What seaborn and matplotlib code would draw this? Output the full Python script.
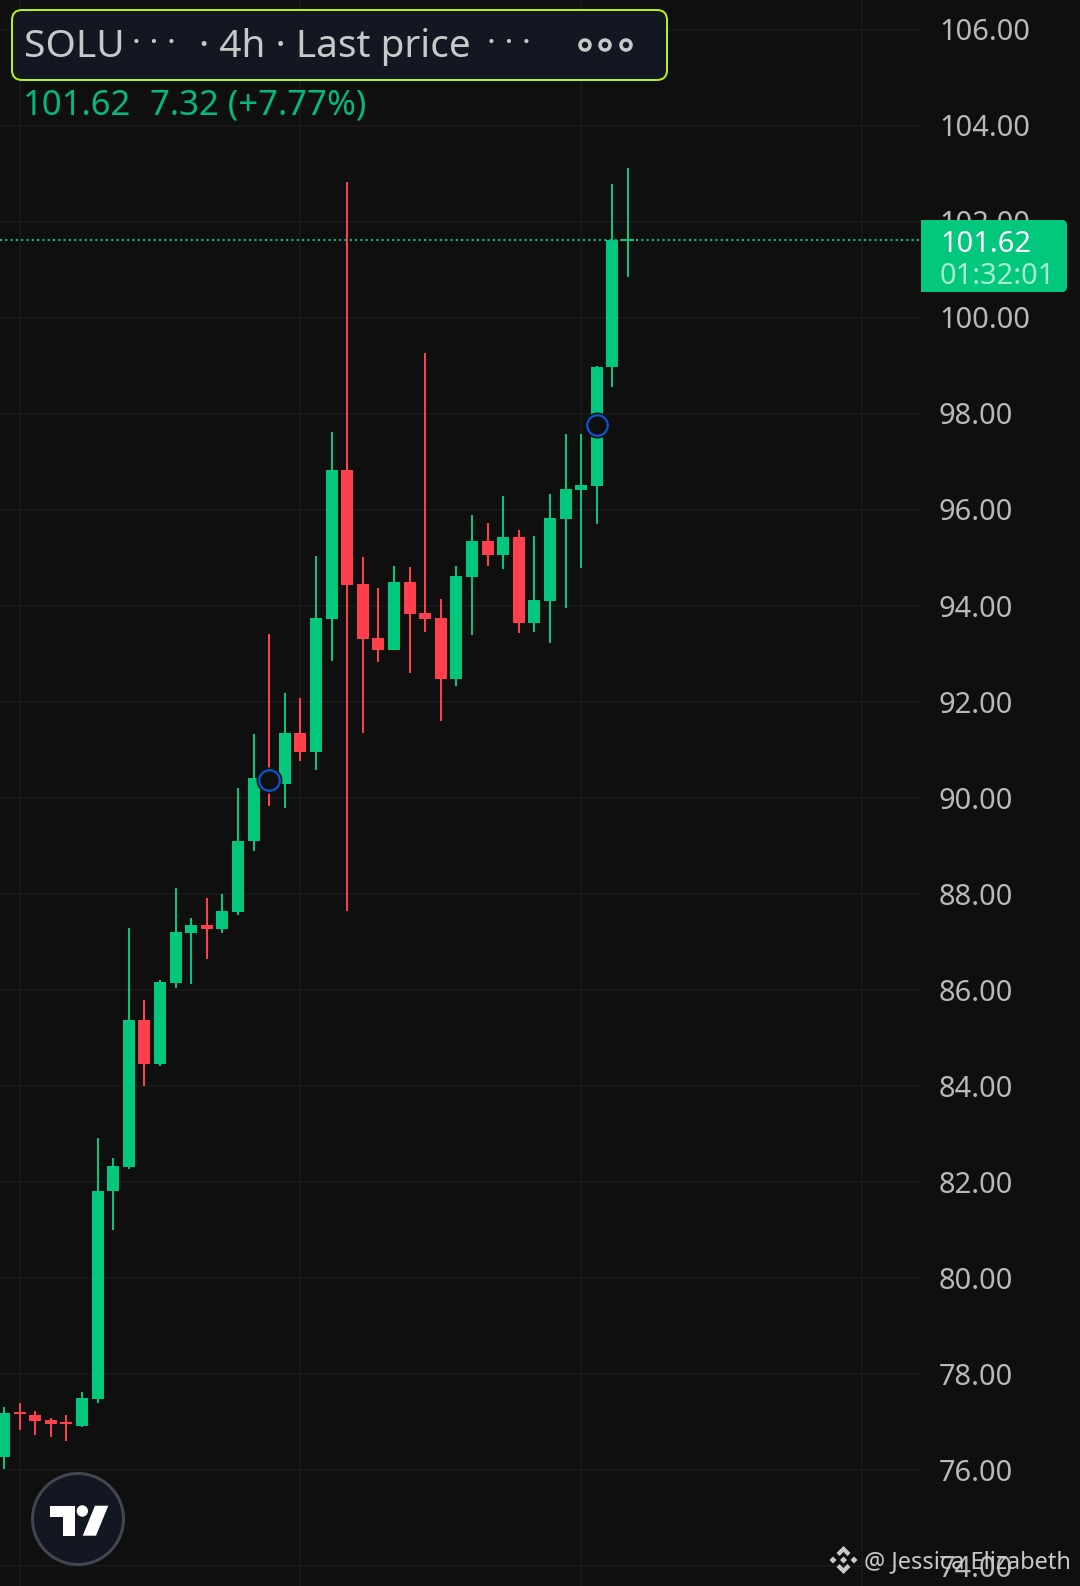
import numpy as np
import pandas as pd
import seaborn as sns
import matplotlib
matplotlib.use('Agg')
import matplotlib.pyplot as plt
from matplotlib.patches import Circle, FancyBboxPatch, Polygon, Rectangle

# 4h candles
opens = [76.26, 77.20, 77.14, 77.03, 76.98, 76.91, 77.47, 81.80, 82.30, 85.36, 84.45,
         86.14, 87.18, 87.34, 87.26, 87.61, 89.09, 90.45, 90.28, 91.34, 90.95,
         93.72, 96.82, 94.45, 93.32, 93.07, 94.49, 93.84, 93.74, 92.47, 94.59,
         95.34, 95.05, 95.43, 93.64, 94.09, 95.80, 96.41, 96.49, 98.97, 101.60]
closes = [77.18, 77.16, 77.01, 76.95, 76.94, 77.49, 81.80, 82.32, 85.36, 84.45, 86.16,
          87.20, 87.34, 87.26, 87.64, 89.09, 90.41, 90.30, 91.34, 90.95, 93.74,
          96.82, 94.43, 93.30, 93.07, 94.49, 93.82, 93.72, 92.47, 94.62, 95.34,
          95.05, 95.43, 93.64, 94.11, 95.82, 96.43, 96.51, 98.97, 101.62, 101.64]
highs = [77.30, 77.39, 77.22, 77.07, 77.14, 77.62, 82.90, 82.49, 87.28, 85.78, 86.20,
         88.11, 87.49, 87.91, 87.99, 90.20, 91.32, 93.41, 92.18, 92.07, 95.03,
         97.62, 102.82, 95.01, 94.37, 94.82, 94.80, 99.26, 94.14, 94.82, 95.89,
         95.72, 96.28, 95.57, 95.45, 96.32, 97.57, 97.57, 98.99, 102.78, 103.11]
lows = [76.01, 76.82, 76.72, 76.68, 76.59, 76.89, 77.39, 81.00, 82.27, 83.99, 84.41,
        86.03, 86.12, 86.64, 87.18, 87.55, 88.88, 89.82, 89.78, 90.76, 90.57,
        92.84, 87.63, 91.34, 92.82, 93.07, 92.59, 93.45, 91.60, 92.32, 93.39,
        94.82, 94.76, 93.43, 93.45, 93.22, 93.95, 94.78, 95.70, 98.55, 100.84]

# blue circle markers
marker_idx = [17, 38]
marker_price = [90.37, 97.76]

last_price = 101.62
price_ticks = list(range(74, 108, 2))
time_ticks = [1, 19, 37, 55]

BG = '#0f0f0f'
GRID = '#1a1a1a'
GREEN = '#02c77d'
RED = '#fe404d'
LABEL = '#b9b9b9'
W, H = 1080, 1586
PX = 72 / 100  # one pixel in points

sns.set_theme(style='dark')
plt.rcParams['font.family'] = ['Noto Sans', 'DejaVu Sans']

df = pd.DataFrame({'idx': range(len(opens)), 'open': opens, 'close': closes, 'high': highs, 'low': lows})
df['side'] = np.where(df['close'] >= df['open'], 'up', 'down')
palette = {'up': GREEN, 'down': RED}

wicks = df.melt(id_vars=['idx', 'side'], value_vars=['high', 'low'], value_name='price')
bodies = df.melt(id_vars=['idx', 'side'], value_vars=['open', 'close'], value_name='price')

fig = plt.figure(figsize=(W / 100, H / 100), dpi=100, facecolor=BG)
ax = fig.add_axes([0, 0, 921 / W, 1], facecolor=BG)

sns.lineplot(ax=ax, data=wicks, x='idx', y='price', hue='side', units='idx', estimator=None,
             palette=palette, linewidth=2 * PX, solid_capstyle='butt', legend=False)
sns.lineplot(ax=ax, data=bodies, x='idx', y='price', hue='side', units='idx', estimator=None,
             palette=palette, linewidth=12 * PX, solid_capstyle='butt', legend=False)

# last price line
ax.axhline(last_price, color=GREEN, linewidth=2 * PX, linestyle=(0, (1, 1.65)), zorder=3)

# circles sit on top of the candles
sns.scatterplot(ax=ax, x=marker_idx, y=marker_price, s=(26 * PX) ** 2, color=BG, linewidth=0, zorder=5)
sns.scatterplot(ax=ax, x=marker_idx, y=marker_price, s=(20.5 * PX) ** 2, color=BG,
                edgecolor='#0b57d0', linewidth=2.2 * PX, zorder=6)

ax.set_xlim((0 - 4) / 15.6, (921 - 4) / 15.6)
ax.set_ylim(96 - (1586 - 509.5) / 48, 96 + 509.5 / 48)
ax.set_xticks(time_ticks)
ax.set_xticklabels([])
ax.set_yticks(price_ticks)
ax.set_yticklabels([f'{p:.2f}' for p in price_ticks])
ax.yaxis.tick_right()
ax.tick_params(axis='y', length=0, pad=18 * PX, labelsize=20.9, labelcolor=LABEL)
ax.tick_params(axis='x', length=0)
ax.set_axisbelow(True)
ax.grid(True, color=GRID, linewidth=1.5 * PX)
ax.set_xlabel('')
ax.set_ylabel('')
sns.despine(ax=ax, left=True, right=True, top=True, bottom=True)

# overlay in pixel coordinates for the app chrome
ui = fig.add_axes([0, 0, 1, 1], facecolor='none')
ui.set_xlim(0, W)
ui.set_ylim(H, 0)
ui.axis('off')

# header box
ui.add_patch(FancyBboxPatch((12, 10), 655, 70, boxstyle='round,pad=0,rounding_size=10',
                            facecolor='#131722', edgecolor='#b7f014', linewidth=2 * PX))
ui.text(24, 47, 'SOLU', color='#c8c8c8', fontsize=28, va='center')
ui.text(132, 44, '· · ·', color='#c8c8c8', fontsize=24, va='center')
ui.text(199, 47, '· 4h · Last price', color='#c8c8c8', fontsize=27.9, va='center')
ui.text(487, 44, '· · ·', color='#c8c8c8', fontsize=24, va='center')
for cx in [585, 605, 626]:
    ui.add_patch(Circle((cx, 45), 5, facecolor='none', edgecolor='#c8c8c8', linewidth=3.5 * PX))

ui.text(23, 106, '101.62', color='#03b97c', fontsize=25, va='center')
ui.text(150, 106, '7.32 (+7.77%)', color='#03b97c', fontsize=25, va='center')

# price tag
ui.add_patch(FancyBboxPatch((921, 220), 146, 72, boxstyle='round,pad=0,rounding_size=5',
                            facecolor=GREEN, edgecolor='none'))
ui.add_patch(Rectangle((921, 220), 20, 72, facecolor=GREEN, edgecolor='none'))
ui.text(940, 245, '101.62', color='white', fontsize=20.9, va='center')
ui.text(940, 277, '01:32:01', color='#a6ecd0', fontsize=20.9, va='center')

# TradingView badge
ui.add_patch(Circle((78, 1519), 45.5, facecolor='#131722', edgecolor='#434651', linewidth=3 * PX))
ui.add_patch(Polygon([(50, 1505.7), (75, 1505.7), (75, 1535.7), (63.3, 1535.7), (63.3, 1516.7), (50, 1516.7)],
                     facecolor='white', edgecolor='none'))
ui.add_patch(Circle((82.3, 1511), 5.7, facecolor='white', edgecolor='none'))
ui.add_patch(Polygon([(95, 1505.7), (108.3, 1505.7), (96, 1535.7), (82.7, 1535.7)],
                     facecolor='white', edgecolor='none'))

# watermark
wm = '#c9c9c9'
bx, by = 843.5, 1560
for pts in ([(0, -14), (7, -7), (4, -4), (0, -8), (-4, -4), (-7, -7)],
            [(0, 14), (7, 7), (4, 4), (0, 8), (-4, 4), (-7, 7)],
            [(-14, 0), (-10.5, -3.5), (-7, 0), (-10.5, 3.5)],
            [(14, 0), (10.5, -3.5), (7, 0), (10.5, 3.5)],
            [(0, -3.5), (3.5, 0), (0, 3.5), (-3.5, 0)]):
    ui.add_patch(Polygon([(bx + a, by + b) for a, b in pts], facecolor=wm, edgecolor='none', zorder=8))
ui.text(864, 1562, '@ Jessica Elizabeth', color=wm, fontsize=17, va='center', zorder=8)

fig.savefig('out.png', dpi=100, facecolor=BG)
